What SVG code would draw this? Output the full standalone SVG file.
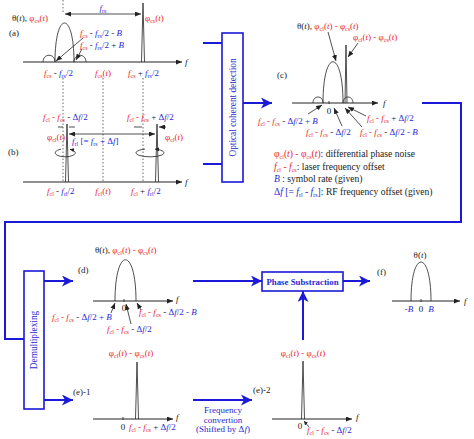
<svg xmlns="http://www.w3.org/2000/svg" width="474" height="439" viewBox="0 0 474 439">
<style>
text{font-family:"Liberation Serif","Times New Roman",serif;font-size:9px;fill:#222}
.r{fill:#e8262d}
.b{fill:#2a2ad0}
.i{font-style:italic}
.s{font-size:6px;baseline-shift:-2px}
.m{text-anchor:middle}
.lg{font-size:9.6px}
.ax{stroke:#222;stroke-width:1;fill:none}
.ln{stroke:#222;stroke-width:0.8;fill:none}
.dot{stroke:#444;stroke-width:0.8;stroke-dasharray:1.5,2;fill:none}
.bl{stroke:#1a1ad8;stroke-width:2;fill:none}
.bx{stroke:#1a1ad8;stroke-width:1.6;fill:#fff}
.bt{fill:#2a2ad0;font-size:9.3px}
</style>
<defs>
<marker id="ab" markerWidth="12" markerHeight="11" refX="11" refY="5.5" orient="auto" markerUnits="userSpaceOnUse"><path d="M0,0 L11,5.5 L0,11 L3,5.5z" fill="#1a1ad8"/></marker>
<marker id="ak" markerWidth="6" markerHeight="5" refX="6" refY="2.5" orient="auto-start-reverse" markerUnits="userSpaceOnUse"><path d="M0,0 L6,2.5 L0,5z" fill="#222"/></marker>
<marker id="as" markerWidth="4" markerHeight="4" refX="4" refY="2" orient="auto" markerUnits="userSpaceOnUse"><path d="M0,0 L4,2 L0,4z" fill="#222"/></marker>
</defs>

<g id="connectors">
<path class="bl" d="M203,43 H222 M203,164 H222"/>
<path class="bl" d="M243,103 H272" marker-end="url(#ab)"/>
<path class="bl" d="M422,103 H461 V222 H5 V339 H24"/>
<path class="bl" d="M44,281 H73" marker-end="url(#ab)"/>
<path class="bl" d="M44,400 H73" marker-end="url(#ab)"/>
<path class="bl" d="M193,281 H262" marker-end="url(#ab)"/>
<path class="bl" d="M343,281 H370" marker-end="url(#ab)"/>
<path class="bl" d="M303,340 V291" marker-end="url(#ab)"/>
<path class="bl" d="M193,400 H252" marker-end="url(#ab)"/>
</g>

<g id="panel-a">
<path class="dot" d="M63,0 V12 M63,78 V181 M103,78 V181 M143,78 V181"/>
<path class="ax" d="M23,62 H182" marker-end="url(#ak)"/>
<text x="185" y="65" class="i">f</text>
<path class="ln" d="M65,14 H141" marker-start="url(#ak)" marker-end="url(#ak)"/>
<text x="103" y="11" class="m b"><tspan class="i">f</tspan><tspan class="s">rs</tspan></text>
<path class="ln" d="M141.5,62 L143,3 L144.5,62"/>
<text x="145" y="21"><tspan class="r">φ<tspan class="s">cs</tspan>(<tspan class="i">t</tspan>)</tspan></text>
<text x="12" y="21">θ(<tspan class="i">t</tspan>), <tspan class="r">φ<tspan class="s">cs</tspan>(<tspan class="i">t</tspan>)</tspan></text>
<text x="9" y="36">(a)</text>
<path class="ln" d="M55,62 C55,10 74,10 74,62"/>
<path class="ln" d="M43,62 C43,53 55,53 55,62 M74,62 C74,53 86,53 86,62"/>
<text x="80" y="36"><tspan class="r"><tspan class="i">f</tspan><tspan class="s">cs</tspan></tspan> - <tspan class="b"><tspan class="i">f</tspan><tspan class="s">rs</tspan>/2</tspan> - <tspan class="b i">B</tspan></text>
<text x="80" y="48"><tspan class="r"><tspan class="i">f</tspan><tspan class="s">cs</tspan></tspan> - <tspan class="b"><tspan class="i">f</tspan><tspan class="s">rs</tspan>/2</tspan> + <tspan class="b i">B</tspan></text>
<path class="ln" d="M83,38 L56,61" marker-end="url(#ak)"/>
<path class="ln" d="M82,49 L76,60" marker-end="url(#ak)"/>
<text x="44" y="76"><tspan class="r"><tspan class="i">f</tspan><tspan class="s">cs</tspan></tspan> - <tspan class="b"><tspan class="i">f</tspan><tspan class="s">rs</tspan>/2</tspan></text>
<text x="103" y="76" class="m r"><tspan class="i">f</tspan><tspan class="s">cs</tspan>(<tspan class="i">t</tspan>)</text>
<text x="128" y="76"><tspan class="r"><tspan class="i">f</tspan><tspan class="s">cs</tspan></tspan> + <tspan class="b"><tspan class="i">f</tspan><tspan class="s">rs</tspan>/2</tspan></text>
</g>

<g id="panel-b">
<path class="ax" d="M23,182 H182" marker-end="url(#ak)"/>
<text x="185" y="185" class="i">f</text>
<path class="ln" d="M65.5,182 L67,124 L68.5,182 M155.5,182 L157,124 L158.5,182"/>
<path class="ln" d="M69,134 H155" marker-start="url(#ak)" marker-end="url(#ak)"/>
<text x="72" y="144" class="b"><tspan class="i">f</tspan><tspan class="s">rl</tspan> [= <tspan class="i">f</tspan><tspan class="s">rs</tspan> + Δ<tspan class="i">f</tspan>]</text>
<text x="43" y="120"><tspan class="r"><tspan class="i">f</tspan><tspan class="s">cl</tspan> - <tspan class="i">f</tspan><tspan class="s">cs</tspan></tspan> - <tspan class="b">Δ<tspan class="i">f</tspan>/2</tspan></text>
<text x="127" y="120"><tspan class="r"><tspan class="i">f</tspan><tspan class="s">cl</tspan> - <tspan class="i">f</tspan><tspan class="s">cs</tspan></tspan> + <tspan class="b">Δ<tspan class="i">f</tspan>/2</tspan></text>
<path class="ln" d="M58,127 H63 M75,127 H69 M134,127 H142 M166,127 H159" marker-end="url(#ak)"/>
<text x="47" y="140" class="r">φ<tspan class="s">cl</tspan>(<tspan class="i">t</tspan>)</text>
<text x="165" y="140" class="r">φ<tspan class="s">cl</tspan>(<tspan class="i">t</tspan>)</text>
<text x="8" y="155">(b)</text>
<path class="ln" d="M61,149.2 A10,4 0 1 0 70,149.3" marker-end="url(#as)"/>
<path class="ln" d="M145,149.1 A14,4 0 1 0 155,149.1" marker-end="url(#as)"/>
<text x="47" y="194"><tspan class="r"><tspan class="i">f</tspan><tspan class="s">cl</tspan></tspan> - <tspan class="b"><tspan class="i">f</tspan><tspan class="s">rl</tspan>/2</tspan></text>
<text x="103" y="194" class="m r"><tspan class="i">f</tspan><tspan class="s">cl</tspan>(<tspan class="i">t</tspan>)</text>
<text x="131" y="194"><tspan class="r"><tspan class="i">f</tspan><tspan class="s">cl</tspan></tspan> + <tspan class="b"><tspan class="i">f</tspan><tspan class="s">rl</tspan>/2</tspan></text>
</g>

<g id="optical-coherent-detection">
<rect class="bx" x="222" y="33" width="21" height="149"/>
<text class="bt m" transform="translate(235.5,107.5) rotate(-90)">Optical coherent detection</text>
</g>

<g id="panel-c">
<text x="277" y="78">(c)</text>
<path class="ax" d="M292,103 H378" marker-end="url(#ak)"/>
<text x="383" y="106" class="i">f</text>
<path class="ln" d="M323,103 C323,48 343,48 343,103"/>
<path class="ln" d="M313,103 C313,95 323,95 323,103 M343,103 C343,95 353,95 353,103"/>
<path class="ln" d="M345,103 L346,45 L347,103"/>
<path class="ln" d="M329,101 V104"/>
<text x="329" y="114" class="m">0</text>
<text x="297" y="29">θ(<tspan class="i">t</tspan>), <tspan class="r">φ<tspan class="s">cl</tspan>(<tspan class="i">t</tspan>) - φ<tspan class="s">cs</tspan>(<tspan class="i">t</tspan>)</tspan></text>
<text x="353" y="40" class="r">φ<tspan class="s">cl</tspan>(<tspan class="i">t</tspan>) - φ<tspan class="s">cs</tspan>(<tspan class="i">t</tspan>)</text>
<path class="ln" d="M328,32 L336,61" marker-end="url(#ak)"/>
<path class="ln" d="M358,43 L348,57" marker-end="url(#ak)"/>
<text x="258" y="124"><tspan class="r"><tspan class="i">f</tspan><tspan class="s">cl</tspan> - <tspan class="i">f</tspan><tspan class="s">cs</tspan></tspan> - <tspan class="b">Δ<tspan class="i">f</tspan>/2 + <tspan class="i">B</tspan></tspan></text>
<text x="367" y="121"><tspan class="r"><tspan class="i">f</tspan><tspan class="s">cl</tspan> - <tspan class="i">f</tspan><tspan class="s">cs</tspan></tspan> + <tspan class="b">Δ<tspan class="i">f</tspan>/2</tspan></text>
<text x="306" y="135"><tspan class="r"><tspan class="i">f</tspan><tspan class="s">cl</tspan> - <tspan class="i">f</tspan><tspan class="s">cs</tspan></tspan> - <tspan class="b">Δ<tspan class="i">f</tspan>/2</tspan></text>
<text x="360" y="135"><tspan class="r"><tspan class="i">f</tspan><tspan class="s">cl</tspan> - <tspan class="i">f</tspan><tspan class="s">cs</tspan></tspan> - <tspan class="b">Δ<tspan class="i">f</tspan>/2 - <tspan class="i">B</tspan></tspan></text>
<path class="ln" d="M308,114 L322,105" marker-end="url(#ak)"/>
<path class="ln" d="M342,126 L334,108" marker-end="url(#ak)"/>
<path class="ln" d="M362,127 L345,108" marker-end="url(#ak)"/>
<path class="ln" d="M366,116 L348,107" marker-end="url(#ak)"/>
</g>

<g id="legend">
<text x="274" y="157" class="lg"><tspan class="r">φ<tspan class="s">cl</tspan>(<tspan class="i">t</tspan>) - φ<tspan class="s">cs</tspan>(<tspan class="i">t</tspan>)</tspan>: differential phase noise</text>
<text x="274" y="169.5" class="lg"><tspan class="r"><tspan class="i">f</tspan><tspan class="s">cl</tspan> - <tspan class="i">f</tspan><tspan class="s">cs</tspan></tspan>: laser frequency offset</text>
<text x="274" y="182" class="lg"><tspan class="b i">B</tspan> : symbol rate (given)</text>
<text x="274" y="194.5" class="lg"><tspan class="b">Δ<tspan class="i">f</tspan> [= <tspan class="i">f</tspan><tspan class="s">rl</tspan> - <tspan class="i">f</tspan><tspan class="s">rs</tspan>]</tspan>: RF frequency offset (given)</text>
</g>

<g id="demultiplexing">
<rect class="bx" x="24" y="271" width="20" height="138"/>
<text class="bt m" transform="translate(37.3,340) rotate(-90)">Demultiplexing</text>
</g>

<g id="panel-d">
<text x="78" y="273">(d)</text>
<text x="95" y="253">θ(<tspan class="i">t</tspan>), <tspan class="r">φ<tspan class="s">cl</tspan>(<tspan class="i">t</tspan>) - φ<tspan class="s">cs</tspan>(<tspan class="i">t</tspan>)</tspan></text>
<path class="ax" d="M93,301 H173" marker-end="url(#ak)"/>
<text x="176" y="302" class="i">f</text>
<path class="ln" d="M115,301 C115,246 136,246 136,301"/>
<path class="ln" d="M124,299 V302"/>
<text x="124" y="311" class="m">0</text>
<text x="52" y="320"><tspan class="r"><tspan class="i">f</tspan><tspan class="s">cl</tspan> - <tspan class="i">f</tspan><tspan class="s">cs</tspan></tspan> - <tspan class="b">Δ<tspan class="i">f</tspan>/2 + <tspan class="i">B</tspan></tspan></text>
<text x="139" y="315"><tspan class="r"><tspan class="i">f</tspan><tspan class="s">cl</tspan> - <tspan class="i">f</tspan><tspan class="s">cs</tspan></tspan> - <tspan class="b">Δ<tspan class="i">f</tspan>/2 - <tspan class="i">B</tspan></tspan></text>
<text x="107" y="332"><tspan class="r"><tspan class="i">f</tspan><tspan class="s">cl</tspan> - <tspan class="i">f</tspan><tspan class="s">cs</tspan></tspan> - <tspan class="b">Δ<tspan class="i">f</tspan>/2</tspan></text>
<path class="ln" d="M111,313 L115,303" marker-end="url(#ak)"/>
<path class="ln" d="M141,310 L137,303" marker-end="url(#ak)"/>
<path class="ln" d="M131,324 L126,304" marker-end="url(#ak)"/>
</g>

<g id="phase-substraction">
<rect class="bx" x="262" y="272" width="81" height="19"/>
<text x="302.5" y="285" class="bt m" font-weight="bold" style="font-size:8.8px">Phase Substraction</text>
</g>

<g id="panel-f">
<text x="377" y="275">(f)</text>
<text x="420" y="258" class="m">θ(<tspan class="i">t</tspan>)</text>
<path class="ax" d="M392,301 H460" marker-end="url(#ak)"/>
<text x="464" y="304" class="i">f</text>
<path class="ln" d="M411,301 C411,249 431,249 431,301"/>
<path class="ln" d="M421,299 V302"/>
<text x="409" y="312" class="m b">-<tspan class="i">B</tspan></text>
<text x="421" y="312" class="m">0</text>
<text x="431" y="312" class="m b i">B</text>
</g>

<g id="panel-e1">
<text x="73" y="395">(e)-1</text>
<text x="131" y="356" class="m r">φ<tspan class="s">cl</tspan>(<tspan class="i">t</tspan>) - φ<tspan class="s">cs</tspan>(<tspan class="i">t</tspan>)</text>
<path class="ax" d="M93,419 H173" marker-end="url(#ak)"/>
<text x="176" y="420" class="i">f</text>
<path class="ln" d="M135.5,419 L137,362 L138.5,419"/>
<path class="ln" d="M123,417 V420"/>
<text x="123" y="430" class="m">0</text>
<text x="129" y="430"><tspan class="r"><tspan class="i">f</tspan><tspan class="s">cl</tspan> - <tspan class="i">f</tspan><tspan class="s">cs</tspan></tspan> + <tspan class="b">Δ<tspan class="i">f</tspan>/2</tspan></text>
</g>

<g id="frequency-convertion">
<text x="223" y="413" class="m b">Frequency</text>
<text x="223" y="422.5" class="m b">convertion</text>
<text x="223" y="432" class="m b">(Shifted by Δ<tspan class="i">f</tspan>)</text>
</g>

<g id="panel-e2">
<text x="253" y="393">(e)-2</text>
<text x="303" y="356" class="m r">φ<tspan class="s">cl</tspan>(<tspan class="i">t</tspan>) - φ<tspan class="s">cs</tspan>(<tspan class="i">t</tspan>)</text>
<path class="ax" d="M272,419 H352" marker-end="url(#ak)"/>
<text x="356" y="420" class="i">f</text>
<path class="ln" d="M301.5,419 L303,361 L304.5,419"/>
<text x="300" y="429" class="m">0</text>
<path class="ln" d="M309,427 L304,421" marker-end="url(#as)"/>
<text x="307" y="433"><tspan class="r"><tspan class="i">f</tspan><tspan class="s">cl</tspan> - <tspan class="i">f</tspan><tspan class="s">cs</tspan></tspan> - <tspan class="b">Δ<tspan class="i">f</tspan>/2</tspan></text>
</g>
</svg>
